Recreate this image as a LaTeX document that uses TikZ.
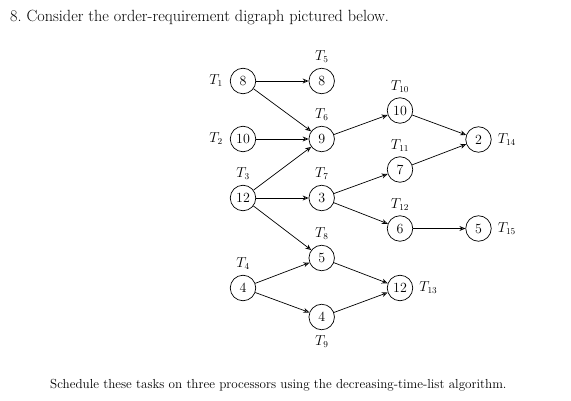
\documentclass[tikz,border=0pt]{standalone}
\usepackage{amsmath, amssymb}
\usepackage{tikz}
\usetikzlibrary{arrows.meta, positioning}

\tikzset{
    task/.style={draw, circle, minimum size=25.5pt, inner sep=0pt, line width=0.7pt,
        font=\fontsize{14}{16}\selectfont},
    taskname/.style={inner sep=0pt, font=\fontsize{13.5}{16}\selectfont},
    dep/.style={-{Stealth[open, length=6pt, width=5pt]}, line width=0.7pt},
}

\begin{document}
\begin{tikzpicture}[x=1pt,y=1pt,yscale=-1,xscale=1]
    \useasboundingbox (0,0) rectangle (571,401);

    % Text Node
    \draw (10,17) node [anchor=west][inner sep=0pt][font=\fontsize{16.2}{19}\selectfont]    {8.\ Consider the order-requirement digraph pictured below.};
    % Text Node
    \draw (50,385) node [anchor=west][inner sep=0pt][font=\fontsize{13.1}{15}\selectfont]    {Schedule these tasks on three processors using the decreasing-time-list algorithm.};

    %Tasks
    \node [task] (t1) at (243,81) {8};
    \node [task] (t2) at (243,139) {10};
    \node [task] (t3) at (243,198) {12};
    \node [task] (t4) at (243,288) {4};
    \node [task] (t5) at (321.7,81) {8};
    \node [task] (t6) at (321.7,139) {9};
    \node [task] (t7) at (321.7,198) {3};
    \node [task] (t8) at (321.7,258) {5};
    \node [task] (t9) at (321.7,317) {4};
    \node [task] (t10) at (400,110.5) {10};
    \node [task] (t11) at (400,169.5) {7};
    \node [task] (t12) at (400,228.5) {6};
    \node [task] (t13) at (400,288) {12};
    \node [task] (t14) at (478.5,139.5) {2};
    \node [task] (t15) at (478.5,228.5) {5};

    %Task names
    \node [taskname, left=7pt of t1]  {$T_{1}$};
    \node [taskname, left=7pt of t2]  {$T_{2}$};
    \node [taskname, above=5pt of t3] {$T_{3}$};
    \node [taskname, above=5pt of t4] {$T_{4}$};
    \node [taskname, above=5pt of t5] {$T_{5}$};
    \node [taskname, above=5pt of t6] {$T_{6}$};
    \node [taskname, above=5pt of t7] {$T_{7}$};
    \node [taskname, above=5pt of t8] {$T_{8}$};
    \node [taskname, below=5pt of t9] {$T_{9}$};
    \node [taskname, above=5pt of t10] {$T_{10}$};
    \node [taskname, above=5pt of t11] {$T_{11}$};
    \node [taskname, above=5pt of t12] {$T_{12}$};
    \node [taskname, right=6pt of t13] {$T_{13}$};
    \node [taskname, right=6pt of t14] {$T_{14}$};
    \node [taskname, right=6pt of t15] {$T_{15}$};

    %Requirements
    \draw [dep] (t1) -- (t5);
    \draw [dep] (t1) -- (t6);
    \draw [dep] (t2) -- (t6);
    \draw [dep] (t3) -- (t6);
    \draw [dep] (t3) -- (t7);
    \draw [dep] (t3) -- (t8);
    \draw [dep] (t4) -- (t8);
    \draw [dep] (t4) -- (t9);
    \draw [dep] (t6) -- (t10);
    \draw [dep] (t7) -- (t11);
    \draw [dep] (t7) -- (t12);
    \draw [dep] (t8) -- (t13);
    \draw [dep] (t9) -- (t13);
    \draw [dep] (t10) -- (t14);
    \draw [dep] (t11) -- (t14);
    \draw [dep] (t12) -- (t15);

\end{tikzpicture}
\end{document}
